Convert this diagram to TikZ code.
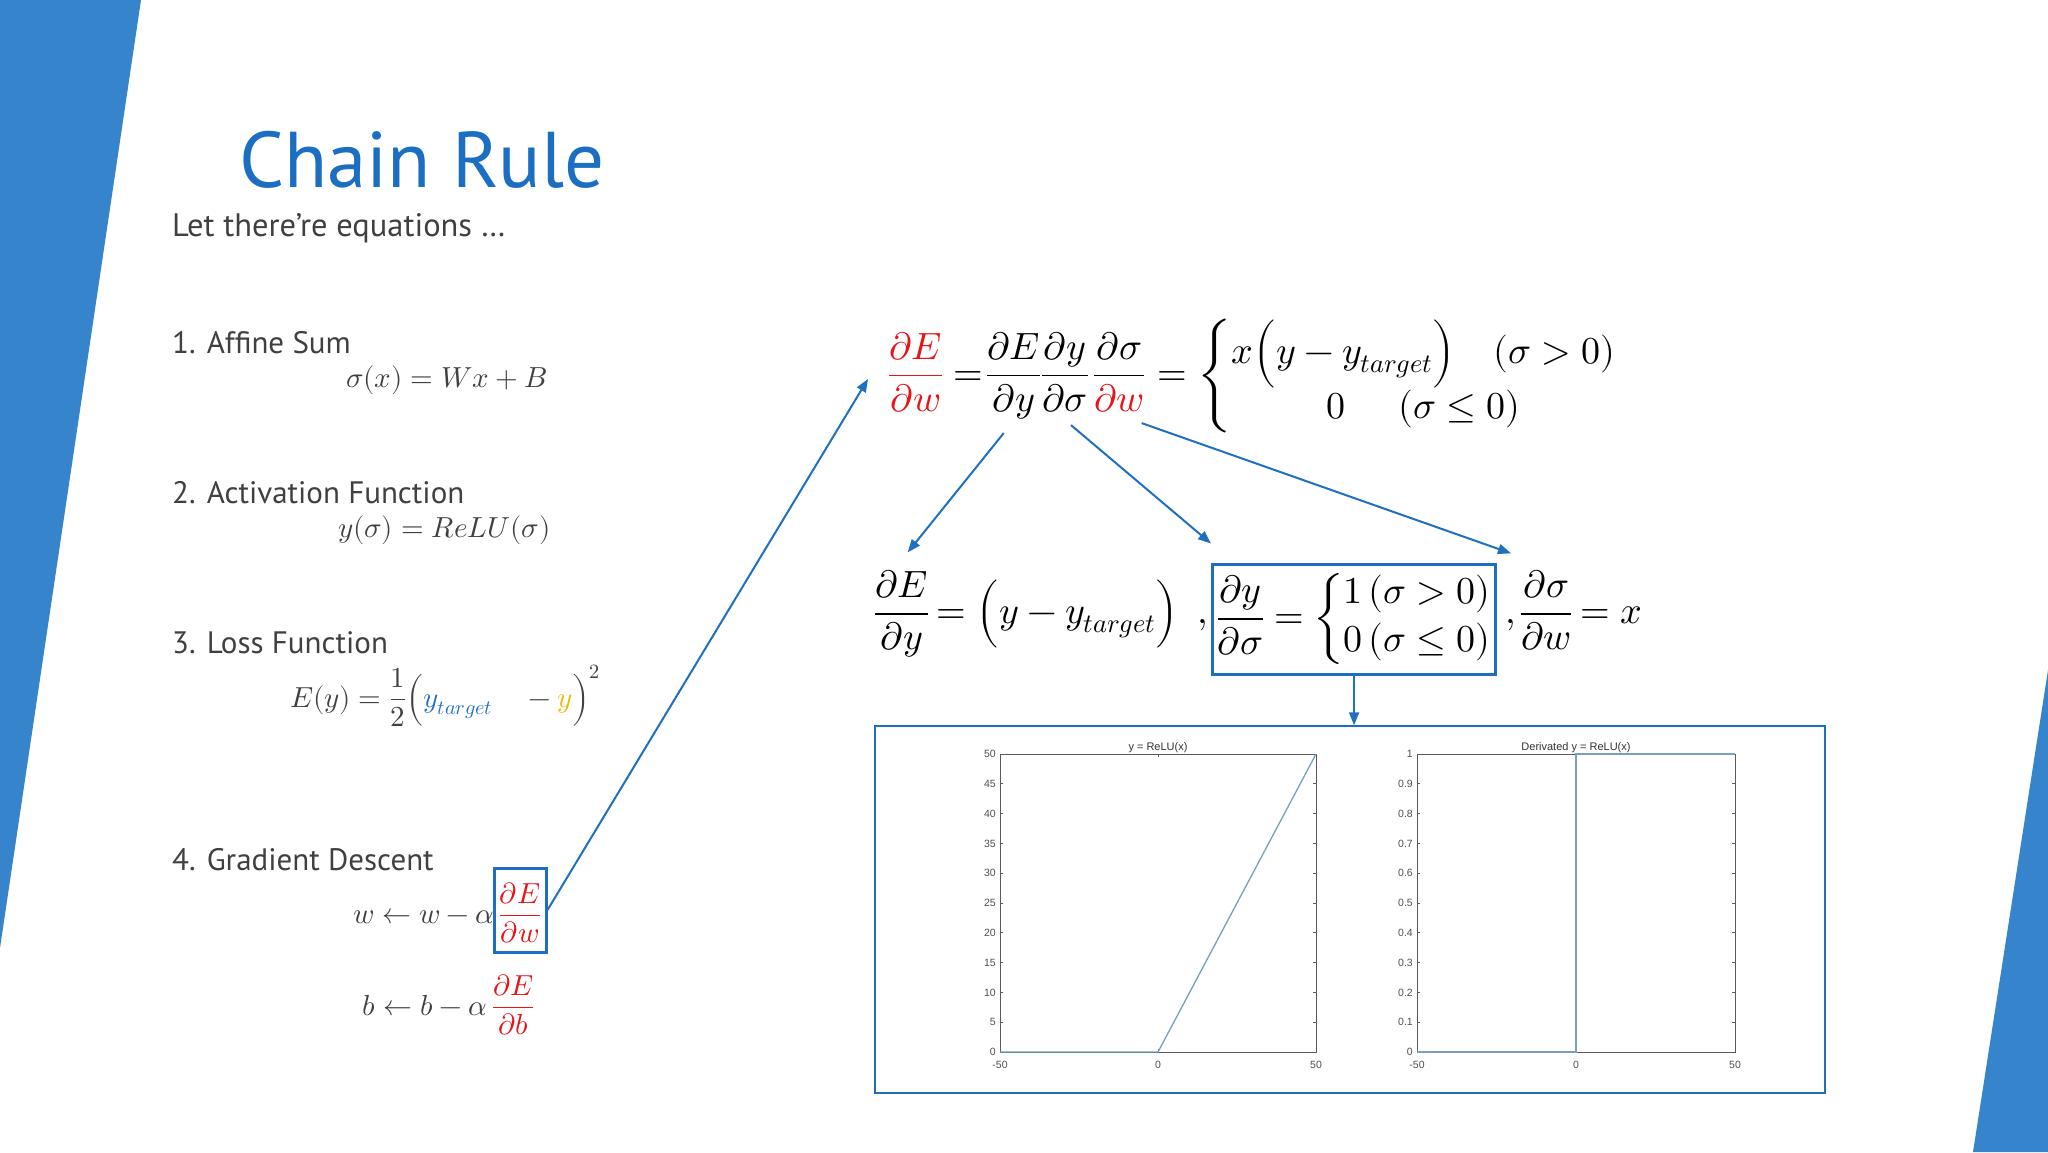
\documentclass[tikz,border=0pt]{standalone}
\usepackage{amsmath}
\usepackage{fontspec}
\usepackage{unicode-math}
\setmainfont{PT Sans}
\setmathfont{Latin Modern Math}
\newfontfamily\plotfont{Liberation Sans}
\usetikzlibrary{arrows.meta}
\definecolor{bandblue}{RGB}{53,132,204}
\definecolor{titleblue}{RGB}{27,110,194}
\definecolor{txtgray}{RGB}{64,64,64}
\definecolor{linkblue}{RGB}{31,112,193}
\definecolor{boxblue}{RGB}{30,112,190}
\definecolor{eqred}{RGB}{232,20,24}
\definecolor{tblue}{RGB}{36,112,196}
\definecolor{gold}{RGB}{242,184,0}
\definecolor{plotline}{RGB}{120,160,185}
\definecolor{axisgray}{RGB}{90,90,90}
\definecolor{tickgray}{RGB}{80,80,80}
\tikzset{
  titletext/.style={text=titleblue, inner sep=0pt, anchor=base west, font=\fontsize{79}{88}\selectfont},
  subtext/.style={text=txtgray, inner sep=0pt, anchor=base west, font=\fontsize{32.5}{38}\selectfont},
  itemtext/.style={text=txtgray, inner sep=0pt, anchor=base west, font=\fontsize{31}{37}\selectfont},
  lmath/.style={text=txtgray, inner sep=0pt, anchor=base west, font=\fontsize{29}{35}\selectfont},
  rmath/.style={text=black, inner sep=0pt, anchor=base west, font=\fontsize{38}{44}\selectfont},
  conn/.style={draw=linkblue, line width=2pt, -{Triangle[length=13pt,width=10pt]}},
  hlbox/.style={draw=boxblue, line width=3pt},
  ticklabel/.style={text=tickgray, inner sep=0pt, font=\plotfont\fontsize{10.5}{12}\selectfont},
  plottitle/.style={text=black!80, inner sep=0pt, font=\plotfont\fontsize{11}{13}\selectfont},
  axisbox/.style={draw=axisgray, line width=1pt},
  tickmark/.style={draw=axisgray, line width=0.8pt},
  curve/.style={draw=plotline, line width=1.3pt},
}
\begin{document}
\begin{tikzpicture}[x=1pt,y=-1pt]
\useasboundingbox (0,0) rectangle (2048,1152);
\fill[white] (0,0) rectangle (2048,1152);
\fill[bandblue] (0,0) -- (141,0) -- (0,948) -- cycle;
\fill[bandblue] (2048,670) -- (2048,1152) -- (1973,1152) -- cycle;

% left column
\node[titletext] (title) at (239,187) {Chain Rule};
\node[subtext] (sub) at (172,236) {Let there’re equations …};
\node[itemtext] (i1) at (172,353) {1. Affine Sum};
\node[lmath] (m1) at (346,387) {$\sigma(x) = Wx + B$};
\node[itemtext] (i2) at (172,503) {2. Activation Function};
\node[lmath] (m2) at (338,537) {$y(\sigma) = ReLU(\sigma)$};
\node[itemtext] (i3) at (172,653) {3. Loss Function};
\node[lmath] (m3) at (290,707) {$\displaystyle E(y) = \frac{1}{2}\Bigl(\textcolor{tblue}{y_{target}}\quad - \textcolor{gold}{y}\Bigr)^{2}$};
\node[itemtext] (i4) at (172,870) {4. Gradient Descent};
\node[lmath] (m4) at (353,923) {$w \leftarrow w - \alpha$};
\node[lmath, hlbox, anchor=base, inner sep=0pt, text height=55pt, text depth=29pt, minimum width=52pt] (g1) at (520,923) {$\displaystyle\textcolor{eqred}{\frac{\partial E}{\partial w}}$};
\node[lmath] (m5) at (362,1015) {$\displaystyle b \leftarrow b - \alpha\,\textcolor{eqred}{\frac{\partial E}{\partial b}}$};

% top right equation
\node[rmath] (t1) at (888,385) {$\displaystyle\textcolor{eqred}{\frac{\partial E}{\partial w}} =$};
\node[rmath] (t2) at (986,385) {$\displaystyle\frac{\partial E}{\partial y}$};
\node[rmath] (t3) at (1041,385) {$\displaystyle\frac{\partial y}{\partial \sigma}$};
\node[rmath] (t4) at (1093,385) {$\displaystyle\frac{\partial \sigma}{\textcolor{eqred}{\partial w}}$};
\node[rmath] (t5) at (1157,385) {$= \left\{\begin{array}{@{}c@{}} x\Bigl(y - y_{target}\Bigr)\quad(\sigma > 0)\\[6pt] 0\hspace{1.4em}(\sigma \le 0)\end{array}\right.$};

% second row
\node[rmath] (s1a) at (874,623.5) {$\displaystyle\frac{\partial E}{\partial y}$};
\node[rmath] (s1b) at (936,623.5) {$= \Bigl(y - y_{target}\Bigr)$};
\node[rmath] (c1) at (1197,623.5) {$,$};
\node[rmath, hlbox, anchor=west, inner xsep=4pt, inner ysep=0pt, minimum width=281pt, minimum height=110pt] (s2) at (1211,619) {$\displaystyle\frac{\partial y}{\partial\sigma} = \left\{\begin{array}{@{}l@{}}1\,(\sigma > 0)\\[4pt] 0\,(\sigma \le 0)\end{array}\right.$};
\node[rmath] (c2) at (1505,623.5) {$,$};
\node[rmath] (s3a) at (1520,623.5) {$\displaystyle\frac{\partial\sigma}{\partial w}$};
\node[rmath] (s3b) at (1580,623.5) {$= x$};

% plot frame
\node[draw=boxblue, line width=1.5pt, inner sep=0pt, minimum width=950pt, minimum height=367pt] (frame) at (1350,909.5) {};

% connectors
\draw[conn] (g1.east) -- ([xshift=-20pt,yshift=-7pt]t1.west);
\draw[conn] ([xshift=-10pt,yshift=-14pt]t2.south) -- ([xshift=6pt,yshift=18pt]s1a.north);
\draw[conn] ([xshift=6pt,yshift=-13pt]t3.south) -- ([yshift=19pt]s2.north west);
\draw[conn] ([xshift=-4pt,yshift=-11pt]t4.south east) -- ([xshift=-9pt,yshift=17pt]s3a.north west);
\draw[conn] (s2.south) -- (s2.south |- frame.north);

% left plot
\begin{scope}[shift={(1000,1052)}, x=3.16pt, y=5.96pt]
  \foreach \v in {0,5,...,50} {
    \draw[tickmark] (0,\v) -- (1,\v) (100,\v) -- (99,\v);
    \node[ticklabel, anchor=east] at ([xshift=-4pt]0,\v) {\v};
  }
  \foreach \u/\l in {0/-50,50/0,100/50} {
    \draw[tickmark] (\u,0) -- (\u,0.5) (\u,50) -- (\u,49.5);
    \node[ticklabel, anchor=north] at ([yshift=-9pt]\u,0) {\l};
  }
  \draw[axisbox] (0,0) rectangle (100,50);
  \draw[curve] (0,0) -- (50,0) -- (100,50);
  \node[plottitle, anchor=base] (lt) at ([yshift=4pt]50,50) {y = ReLU(x)};
\end{scope}

% right plot
\begin{scope}[shift={(1417,1052)}, x=3.18pt, y=298pt]
  \foreach \v in {0,0.1,0.2,0.3,0.4,0.5,0.6,0.7,0.8,0.9,1} {
    \draw[tickmark] (0,\v) -- (1,\v) (100,\v) -- (99,\v);
    \node[ticklabel, anchor=east] at ([xshift=-4pt]0,\v) {\v};
  }
  \foreach \u/\l in {0/-50,50/0,100/50} {
    \draw[tickmark] (\u,0) -- (\u,0.01) (\u,1) -- (\u,0.99);
    \node[ticklabel, anchor=north] at ([yshift=-9pt]\u,0) {\l};
  }
  \draw[axisbox] (0,0) rectangle (100,1);
  \draw[curve] (0,0) -- (50,0) -- (50,1) -- (100,1);
  \node[plottitle, anchor=base] (rt) at ([yshift=4pt]50,1) {Derivated y = ReLU(x)};
\end{scope}
\end{tikzpicture}
\end{document}
